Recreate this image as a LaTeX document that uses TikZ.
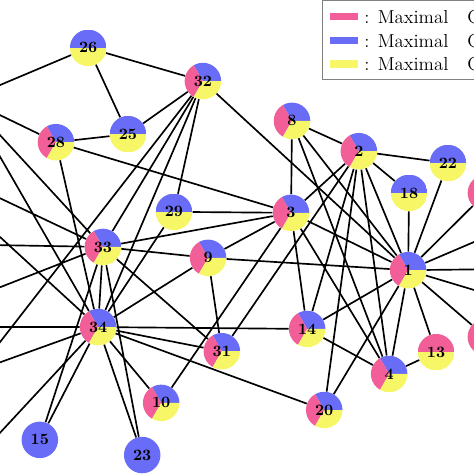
\documentclass[tikz,border=0pt]{standalone}
\usepackage{tikz}
\usetikzlibrary{positioning}

\definecolor{cpink}{RGB}{241,94,152}
\definecolor{cblue}{RGB}{104,108,246}
\definecolor{cyellow}{RGB}{246,246,102}

\begin{document}
\begin{tikzpicture}[
  font=\fontsize{9.5}{11}\selectfont\bfseries,
  vert/.style={circle, minimum size=0.77cm, inner sep=0pt},
  tri/.style={vert, path picture={
      \fill[cblue]   (path picture bounding box.center) -- ++(0:1cm)
            arc[start angle=0, end angle=120, radius=1cm] -- cycle;
      \fill[cpink]   (path picture bounding box.center) -- ++(120:1cm)
            arc[start angle=120, end angle=240, radius=1cm] -- cycle;
      \fill[cyellow] (path picture bounding box.center) -- ++(240:1cm)
            arc[start angle=240, end angle=360, radius=1cm] -- cycle;}},
  by/.style={vert, path picture={
      \fill[cblue]   (path picture bounding box.north west) rectangle (path picture bounding box.east);
      \fill[cyellow] (path picture bounding box.west) rectangle (path picture bounding box.south east);}},
  py/.style={vert, path picture={
      \fill[cpink]   (path picture bounding box.north west) rectangle (path picture bounding box.east);
      \fill[cyellow] (path picture bounding box.west) rectangle (path picture bounding box.south east);}},
  bb/.style={vert, fill=cblue},
  link/.style={line width=1pt},
  swatch/.style={rectangle, minimum width=0.59cm, minimum height=0.15cm, inner sep=0pt},
  legtext/.style={font=\fontsize{11.3}{13}\selectfont, inner sep=0pt},
  ]
  \useasboundingbox (0,0) rectangle (10,10);
  \clip (0,0) rectangle (10,10);

  %% Nodes: vertices of the graph
  \node[by]  (n26) at (1.86, 8.99) {26};
  \node[tri] (n32) at (4.28, 8.29) {32};
  \node[tri] (n28) at (1.18, 7.00) {28};
  \node[by]  (n25) at (2.70, 7.17) {25};
  \node[tri] (n8)  at (6.16, 7.45) {8};
  \node[tri] (n2)  at (7.57, 6.81) {2};
  \node[by]  (n22) at (9.45, 6.56) {22};
  \node[by]  (n18) at (8.63, 5.93) {18};
  \node[by]  (n29) at (3.67, 5.53) {29};
  \node[tri] (n3)  at (6.14, 5.51) {3};
  \node[tri] (n33) at (2.17, 4.79) {33};
  \node[tri] (n9)  at (4.39, 4.56) {9};
  \node[tri] (n1)  at (8.61, 4.30) {1};
  \node[tri] (n34) at (2.07, 3.10) {34};
  \node[tri] (n14) at (6.48, 3.06) {14};
  \node[tri] (n31) at (4.68, 2.59) {31};
  \node[py]  (n13) at (9.20, 2.57) {13};
  \node[tri] (n4)  at (8.21, 2.11) {4};
  \node[tri] (n10) at (3.40, 1.50) {10};
  \node[tri] (n20) at (6.84, 1.35) {20};
  \node[bb]  (n15) at (0.84, 0.72) {15};
  \node[bb]  (n23) at (3.00, 0.40) {23};
  % cut by the right border
  \node[tri] (r1)  at (10.25, 5.93) {};
  \node[tri] (r2)  at (10.25, 2.89) {};

  %% free ends outside the frame
  \coordinate (w24) at (-0.70, 7.91);
  \coordinate (wa)  at (-1.84, 6.69);
  \coordinate (wb)  at (-1.27, 4.85);
  \coordinate (wc)  at (-1.27, 3.10);
  \coordinate (wd)  at (-0.84, 3.61);
  \coordinate (we)  at (-0.46, 2.19);
  \coordinate (wf)  at (-0.63, 0.19);
  \coordinate (e1)  at (10.34, 5.04);
  \coordinate (e2)  at (10.34, 4.32);
  \coordinate (e3)  at (10.34, 3.78);

  %% Edges
  % vertex 1
  \draw[link] (n1) -- (n2)  (n1) -- (n3)  (n1) -- (n4)  (n1) -- (n8)
              (n1) -- (n9)  (n1) -- (n13) (n1) -- (n14) (n1) -- (n18)
              (n1) -- (n20) (n1) -- (n22) (n1) -- (n32)
              (n1) -- (r1)  (n1) -- (r2)  (n1) -- (e1)  (n1) -- (e2) (n1) -- (e3);
  % vertex 2
  \draw[link] (n2) -- (n3)  (n2) -- (n4)  (n2) -- (n8)  (n2) -- (n14)
              (n2) -- (n18) (n2) -- (n20) (n2) -- (n22) (n2) -- (n31);
  % vertex 3
  \draw[link] (n3) -- (n4)  (n3) -- (n8)  (n3) -- (n9)  (n3) -- (n10)
              (n3) -- (n14) (n3) -- (n28) (n3) -- (n29) (n3) -- (n33);
  % vertices 4 and 9
  \draw[link] (n4) -- (n8)  (n4) -- (n13) (n4) -- (n14);
  \draw[link] (n9) -- (n31) (n9) -- (n33) (n9) -- (n34);
  % lower vertices
  \draw[link] (n10) -- (n34) (n14) -- (n34) (n20) -- (n34)
              (n15) -- (n33) (n15) -- (n34) (n23) -- (n33) (n23) -- (n34);
  % upper left group
  \draw[link] (n25) -- (n26) (n25) -- (n28) (n25) -- (n32) (n26) -- (n32)
              (n28) -- (n34) (n29) -- (n32) (n29) -- (n34);
  % 31, 32, 33
  \draw[link] (n31) -- (n33) (n31) -- (n34) (n32) -- (n33) (n32) -- (n34)
              (n33) -- (n34);
  % leaving through the left border
  \draw[link] (w24) -- (n26) (w24) -- (n28) (w24) -- (n33) (w24) -- (n34)
              (wa) -- (n33) (wa) -- (n34) (wb) -- (n33) (wc) -- (n34)
              (wd) -- (n33) (we) -- (n32) (we) -- (n34) (wf) -- (n34);

  %% Legend
  \fill[white] (6.81,8.33) rectangle (10.5,9.99);
  \draw[gray, line width=0.6pt] (6.81,8.33) rectangle (10.5,9.99);
  \node[swatch, fill=cpink]   (kp) at (7.25, 9.65) {};
  \node[swatch, fill=cblue]   (kb) at (7.25, 9.14) {};
  \node[swatch, fill=cyellow] (ky) at (7.25, 8.65) {};
  \node[legtext, right=0.13cm of kp] (tp) {: Maximal\quad C};
  \node[legtext, right=0.13cm of kb] (tb) {: Maximal\quad C};
  \node[legtext, right=0.13cm of ky] (ty) {: Maximal\quad C};
\end{tikzpicture}
\end{document}
